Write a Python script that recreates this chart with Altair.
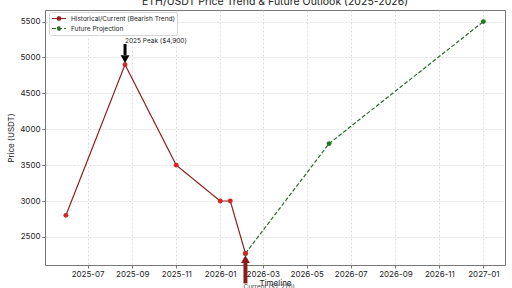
import altair as alt
import pandas as pd

FONT = "Inter"

hist_label = "Historical/Current (Bearish Trend)"
future_label = "Future Projection"

hist_dates = ["2025-06-01", "2025-08-22", "2025-11-01", "2026-01-01", "2026-01-15", "2026-02-05"]
hist_prices = [2800, 4900, 3500, 3000, 3000, 2270]

future_dates = ["2026-02-05", "2026-06-01", "2027-01-01"]
future_prices = [2270, 3800, 5500]

x_tick_months = [(2025, 7), (2025, 9), (2025, 11), (2026, 1), (2026, 3), (2026, 5),
                 (2026, 7), (2026, 9), (2026, 11), (2027, 1)]
y_ticks = [2500, 3000, 3500, 4000, 4500, 5000, 5500]

title_text = "ETH/USDT Price Trend & Future Outlook (2025-2026)"
peak_label = "2025 Peak ($4,900)"
current_label = "Current ($2,270)"

df = pd.DataFrame(
    {
        "date": hist_dates + future_dates,
        "price": hist_prices + future_prices,
        "series": [hist_label] * len(hist_dates) + [future_label] * len(future_dates),
    }
)

peak_i = hist_prices.index(max(hist_prices))
peak_df = pd.DataFrame({"date": [hist_dates[peak_i]], "price": [hist_prices[peak_i]], "label": [peak_label]})
cur_df = pd.DataFrame({"date": [hist_dates[-1]], "price": [hist_prices[-1]], "label": [current_label]})

x_domain = [alt.DateTime(year=2025, month=5, date=3, utc=True),
            alt.DateTime(year=2027, month=1, date=31, utc=True)]
x_values = [alt.DateTime(year=y, month=m, date=1, utc=True) for (y, m) in x_tick_months]

x_enc = alt.X(
    "date:T",
    title="Timeline",
    scale=alt.Scale(type="utc", domain=x_domain, nice=False),
    axis=alt.Axis(values=x_values, labelExpr="utcFormat(datum.value, '%Y-%m')", labelFlush=False),
)
y_enc = alt.Y(
    "price:Q",
    title="Price (USDT)",
    scale=alt.Scale(domain=[2108.5, 5661.5], nice=False, zero=False),
    axis=alt.Axis(values=y_ticks, format="d"),
)

series_domain = [hist_label, future_label]
line_colors = ["#8c1f1f", "#2d6a2d"]
marker_colors = ["#d42626", "#1e7a1e"]

line = alt.Chart(df).mark_line(strokeWidth=1.2).encode(
    x=x_enc,
    y=y_enc,
    stroke=alt.Stroke("series:N", scale=alt.Scale(domain=series_domain, range=line_colors),
                      legend=alt.Legend(title=None)),
    strokeDash=alt.StrokeDash("series:N", scale=alt.Scale(domain=series_domain, range=[[1, 0], [4, 2]]),
                              legend=alt.Legend(title=None)),
)

points = alt.Chart(df).mark_point(filled=True, size=24, opacity=1).encode(
    x=x_enc,
    y=y_enc,
    fill=alt.Fill("series:N", scale=alt.Scale(domain=series_domain, range=marker_colors),
                  legend=alt.Legend(title=None)),
    order=alt.Order("series:N", sort="ascending"),
)

peak_rule = alt.Chart(peak_df).mark_rule(color="black", strokeWidth=3, yOffset=-20.6, y2Offset=-9.6).encode(
    x=x_enc, y=y_enc, y2=alt.Y2("price:Q")
)
peak_head = alt.Chart(peak_df).mark_point(shape="triangle-down", filled=True, size=80, color="black",
                                          opacity=1, yOffset=-5.6).encode(x=x_enc, y=y_enc)
peak_text = alt.Chart(peak_df).mark_text(align="left", baseline="middle", dy=-24, fontSize=6.5,
                                         font=FONT, color="#222").encode(x=x_enc, y=y_enc, text="label:N")

cur_rule = alt.Chart(cur_df).mark_rule(color="#8e1b1b", strokeWidth=4, yOffset=8.6, y2Offset=30).encode(
    x=x_enc, y=y_enc, y2=alt.Y2("price:Q")
)
cur_head = alt.Chart(cur_df).mark_point(shape="triangle-up", filled=True, size=80, color="#8e1b1b",
                                        opacity=1, yOffset=5.6).encode(x=x_enc, y=y_enc)
cur_text = alt.Chart(cur_df).mark_text(align="left", baseline="middle", dx=-2, dy=33.6, fontSize=6.5,
                                       font=FONT, color="#444").encode(x=x_enc, y=y_enc, text="label:N")

legend_path = "M-1,0H3M0.5,0A0.5,0.5,0,1,1,1.5,0A0.5,0.5,0,1,1,0.5,0Z"

chart = (
    alt.layer(line, points, peak_rule, peak_head, peak_text, cur_rule, cur_head, cur_text)
    .properties(
        width=460,
        height=255,
        autosize=alt.AutoSizeParams(type="none"),
        padding={"left": 45, "top": 10, "right": 7, "bottom": 23},
        title=alt.TitleParams(title_text, font=FONT, fontSize=10.5, fontWeight="normal",
                              color="#222", offset=3, anchor="middle"),
        background="white",
    )
    .configure_view(stroke="#777", strokeWidth=1)
    .configure_axis(
        domain=False,
        labelFont=FONT,
        labelFontSize=8,
        labelColor="#222",
        titleFont=FONT,
        titleFontSize=8,
        titleFontWeight="normal",
        titleColor="#222",
        tickColor="#777",
        tickSize=3,
        labelPadding=2,
        grid=True,
        gridColor="#cfcfcf",
        gridDash=[2, 2],
        gridWidth=0.7,
    )
    .configure_axisX(titlePadding=1)
    .configure_axisY(titlePadding=4)
    .configure_legend(
        orient="none",
        legendX=4,
        legendY=2,
        padding=2,
        fillColor="white",
        strokeColor="#d6d6d6",
        cornerRadius=2,
        labelFont=FONT,
        labelFontSize=6.5,
        labelColor="#222",
        symbolType=legend_path,
        symbolSize=49,
        symbolStrokeWidth=1.2,
        labelOffset=11,
        rowPadding=1,
        symbolOpacity=1,
    )
)

chart.save("out.html", embed_options={"renderer": "svg", "actions": False})
